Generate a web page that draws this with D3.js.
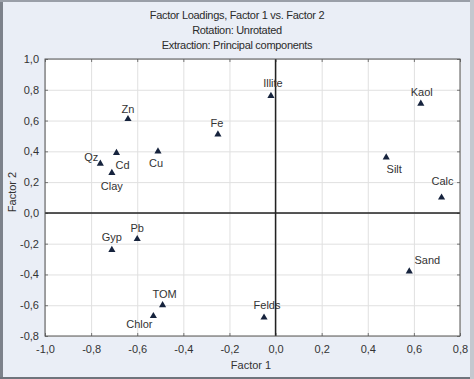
<!DOCTYPE html>
<html>
<head>
<meta charset="utf-8">
<style>
  body { margin: 0; background: #fff; }
  svg { display: block; font-family: "Liberation Sans", Arial, sans-serif; }
</style>
<script src="https://cdn.jsdelivr.net/npm/d3@7"></script>
</head>
<body>
<svg width="474" height="379"></svg>
<script>
// variables and their loadings
var names = ["Zn", "Fe", "Cd", "Qz", "Clay", "Cu", "Illite", "Kaol", "Silt", "Calc",
             "Gyp", "Pb", "TOM", "Chlor", "Sand", "Felds"];
var factor1 = [-0.64, -0.25, -0.69, -0.76, -0.71, -0.51, -0.02, 0.63, 0.48, 0.72,
               -0.71, -0.60, -0.49, -0.53, 0.58, -0.05];
var factor2 = [0.61, 0.51, 0.39, 0.32, 0.26, 0.40, 0.76, 0.71, 0.36, 0.10,
               -0.24, -0.17, -0.60, -0.67, -0.38, -0.68];
var xTicks = [-1.0, -0.8, -0.6, -0.4, -0.2, 0.0, 0.2, 0.4, 0.6, 0.8];
var yTicks = [-0.8, -0.6, -0.4, -0.2, 0.0, 0.2, 0.4, 0.6, 0.8, 1.0];
var titleLines = ["Factor Loadings, Factor 1 vs. Factor 2", "Rotation: Unrotated", "Extraction: Principal components"];

// where each label sits relative to its marker
var labelPos = {
  Zn: [0, -10], Fe: [-1, -11], Cd: [6, 12], Qz: [-9, -6], Clay: [0, 13], Cu: [-2, 12],
  Illite: [2, -13], Kaol: [1, -11], Silt: [8, 12], Calc: [1, -16],
  Gyp: [0, -13], Pb: [0, -11], TOM: [2, -11], Chlor: [-14, 8], Sand: [18, -11], Felds: [3, -12]
};

var svg = d3.select("svg");
var W = 474, H = 379;
var margin = {top: 59, right: 14, bottom: 43, left: 45};
var width = 460 - margin.left, height = 336 - margin.top;

// panel background and frame
svg.append("rect").attr("width", W).attr("height", H).attr("fill", "#eaeef6");
svg.append("rect").attr("x", 0).attr("y", 0).attr("width", 3).attr("height", H).attr("fill", "#7d828b");
svg.append("rect").attr("x", 0).attr("y", 0).attr("width", W).attr("height", 2).attr("fill", "#9a9fa8");
svg.append("rect").attr("x", 0).attr("y", 377).attr("width", W).attr("height", 2).attr("fill", "#6f747c");
svg.append("rect").attr("x", 470).attr("y", 0).attr("width", 4).attr("height", H).attr("fill", "#c4c8cf");

svg.selectAll(".title")
  .data(titleLines)
  .enter().append("text")
  .attr("x", 237)
  .attr("y", function (d, i) { return 19 + i * 15; })
  .attr("text-anchor", "middle")
  .attr("font-size", 11)
  .attr("letter-spacing", "-0.3")
  .attr("fill", "#2b2b2b")
  .text(function (d) { return d; });

var g = svg.append("g").attr("transform", "translate(" + margin.left + "," + margin.top + ")");

var x = d3.scaleLinear().domain([-1.0, 0.8]).range([0, width]);
var y = d3.scaleLinear().domain([-0.8, 1.0]).range([height, 0]);

g.append("rect").attr("width", width).attr("height", height).attr("fill", "#fff");

// gridlines
g.append("g")
  .call(d3.axisBottom(x).tickValues(xTicks).tickSize(height).tickFormat(""))
  .call(function (s) {
    s.select(".domain").remove();
    s.selectAll("line").attr("stroke", "#e0e0e0");
  });
g.append("g")
  .call(d3.axisRight(y).tickValues(yTicks).tickSize(width).tickFormat(""))
  .call(function (s) {
    s.select(".domain").remove();
    s.selectAll("line").attr("stroke", "#e0e0e0");
  });

var fmt = function (d) { return d3.format(".1f")(d).replace(".", ",").replace("\u2212", "-"); };

// bottom + left axes with labels, inward ticks
g.append("g")
  .attr("transform", "translate(0," + height + ")")
  .call(d3.axisBottom(x).tickValues(xTicks).tickSize(-3).tickPadding(9).tickFormat(fmt))
  .call(function (s) {
    s.select(".domain").remove();
    s.selectAll("line").attr("stroke", "#777");
    s.selectAll("text").attr("font-size", 11).attr("fill", "#333").attr("font-family", "Liberation Sans, Arial, sans-serif");
  });
g.append("g")
  .call(d3.axisLeft(y).tickValues(yTicks).tickSize(-3).tickPadding(6).tickFormat(fmt))
  .call(function (s) {
    s.select(".domain").remove();
    s.selectAll("line").attr("stroke", "#777");
    s.selectAll("text").attr("font-size", 11).attr("fill", "#333").attr("font-family", "Liberation Sans, Arial, sans-serif");
  });
g.append("g")
  .call(d3.axisTop(x).tickValues(xTicks).tickSize(-3).tickFormat(""))
  .call(function (s) { s.select(".domain").remove(); s.selectAll("line").attr("stroke", "#777"); });
g.append("g")
  .attr("transform", "translate(" + width + ",0)")
  .call(d3.axisRight(y).tickValues(yTicks).tickSize(-3).tickFormat(""))
  .call(function (s) { s.select(".domain").remove(); s.selectAll("line").attr("stroke", "#777"); });

// zero lines
g.append("line").attr("x1", 0).attr("x2", width).attr("y1", y(0)).attr("y2", y(0))
  .attr("stroke", "#222").attr("stroke-width", 1.5);
g.append("line").attr("x1", x(0)).attr("x2", x(0)).attr("y1", 0).attr("y2", height)
  .attr("stroke", "#222").attr("stroke-width", 1.5);

g.append("rect").attr("width", width).attr("height", height)
  .attr("fill", "none").attr("stroke", "#555").attr("stroke-width", 1);

// axis titles
svg.append("text").attr("x", 251).attr("y", 369).attr("text-anchor", "middle")
  .attr("font-size", 11).attr("fill", "#333").text("Factor 1");
svg.append("text").attr("transform", "translate(16,192) rotate(-90)").attr("text-anchor", "middle")
  .attr("font-size", 11).attr("fill", "#333").text("Factor 2");

// markers
var tri = d3.symbol().type(d3.symbolTriangle).size(22);
g.selectAll(".pt")
  .data(names)
  .enter().append("path")
  .attr("class", "pt")
  .attr("d", tri)
  .attr("transform", function (d, i) { return "translate(" + x(factor1[i]) + "," + y(factor2[i]) + ")"; })
  .attr("fill", "#16233d");

g.selectAll(".lbl")
  .data(names)
  .enter().append("text")
  .attr("class", "lbl")
  .attr("x", function (d, i) { return x(factor1[i]) + labelPos[d][0]; })
  .attr("y", function (d, i) { return y(factor2[i]) + labelPos[d][1]; })
  .attr("dy", "0.35em")
  .attr("text-anchor", "middle")
  .attr("font-size", 11)
  .attr("fill", "#333")
  .text(function (d) { return d; });
</script>
</body>
</html>
